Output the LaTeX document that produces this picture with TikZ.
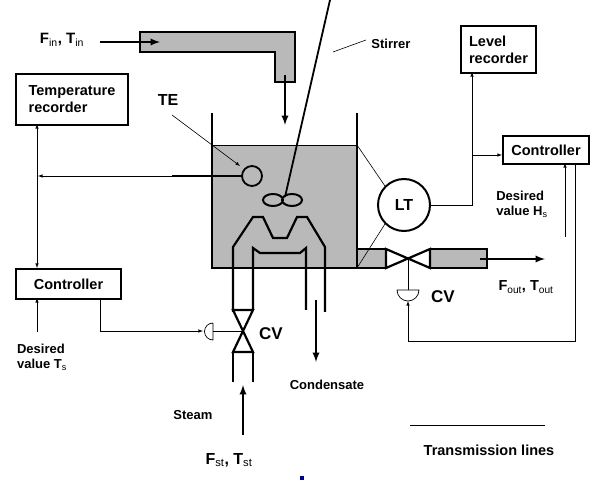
\documentclass[tikz,border=0pt]{standalone}
\usepackage{fontspec}
\setmainfont{Liberation Sans}
\begin{document}
\begin{tikzpicture}[x=1pt,y=-1pt,
  lbl/.style={font=\bfseries\fontsize{13}{15}\selectfont, align=left, inner sep=1pt},
  box/.style={draw, line width=2pt, font=\bfseries\fontsize{14.5}{17}\selectfont, align=left, inner sep=3pt, anchor=north west},
  pipe/.style={line width=2.2pt},
  flow/.style={line width=2.2pt, -latex},
  sig/.style={line width=0.6pt, -latex},
  vessel/.style={fill=gray!55, draw, line width=2.2pt}]
\useasboundingbox (0,0) rectangle (611,481);
% tank
\fill[gray!55] (212,145) rectangle (357,268);
\draw[line width=0.6pt] (212,145) -- (357,145);
\draw[pipe] (212,113) -- (212,268) -- (357,268) -- (357,113);
% inlet pipe
\draw[vessel] (140,32) -- (295,32) -- (295,82) -- (275,82) -- (275,52) -- (140,52) -- cycle;
\coordinate (fin) at (100,42);
\node[lbl,font=\bfseries\fontsize{15}{17}\selectfont] (finl) at (62,40) {F$_{\mathrm{in}}$, T$_{\mathrm{in}}$};
\draw[flow] (fin) -- (160,42);
\draw[flow] (285,75) -- (285,125);
% stirrer
\draw[line width=1.8pt] (330,0) -- (285,197);
\draw[line width=2pt] (273,200) ellipse (10 and 6) (292,200) ellipse (10 and 6);
\node[lbl] (stir) at (391,44) {Stirrer};
\draw[line width=0.6pt] (333,52) -- (366,40);
% coil
\draw[pipe] (233,312) -- (233,247) -- (253,217) -- (263,217) -- (273,238) -- (287,238) -- (297,217) -- (307,217) -- (325,247) -- (325,312);
\draw[pipe] (253,310) -- (253,248) -- (260,253) -- (300,253) -- (306,248) -- (306,310);
% steam valve
\draw[pipe] (233,310) -- (253,310) -- (233,352) -- (253,352) -- cycle;
\draw[pipe] (233,352) -- (233,382) (253,352) -- (253,382);
\node[lbl,font=\bfseries\fontsize{17}{19}\selectfont] (cv1) at (271,334) {CV};
\draw[flow] (243,435) -- (243,385);
\node[lbl] (steam) at (193,415) {Steam};
\node[lbl,font=\bfseries\fontsize{16}{18}\selectfont] (fst) at (229,460) {F$_{\mathrm{st}}$, T$_{\mathrm{st}}$};
\draw[flow] (316,300) -- (316,362);
\node[lbl] (cond) at (327,385) {Condensate};
% steam actuator
\draw[line width=0.7pt] (213,323) -- (213,340) arc (90:270:8.5);
\draw[line width=0.6pt] (213,331) -- (242,331);
% TE
\draw[line width=1.8pt] (252,176) circle (10);
\draw[line width=1.8pt] (172,176) -- (242,176);
\node[lbl,font=\bfseries\fontsize{16}{18}\selectfont] (te) at (168,100) {TE};
\draw[sig] (172,115) -- (240,166);
% temperature loop
\node[box,minimum width=112pt,minimum height=51pt] (trec) at (15,73) {Temperature\\recorder};
\node[box,minimum width=105pt,minimum height=30pt] (tc) at (15,268) {Controller};
\draw[line width=0.6pt,latex-latex] (37,124) -- (37,268);
\draw[sig] (172,176) -- (38,176);
\node[lbl] (tsd) at (42,357) {Desired\\value T$_{\mathrm{s}}$};
\draw[sig] (37,332) -- (37,298);
\draw[sig] (100,298) -- (100,331) -- (203,331);
% outlet
\draw[vessel] (357,249) rectangle (386,268);
\draw[vessel] (430,249) rectangle (487,268);
\draw[pipe] (386,249) -- (386,268) -- (430,249) -- (430,268) -- cycle;
\draw[flow] (480,259) -- (545,259);
\node[lbl,font=\bfseries\fontsize{14.5}{17}\selectfont] (fout) at (526,287) {F$_{\mathrm{out}}$, T$_{\mathrm{out}}$};
% LT
\node[draw,circle,line width=2pt,minimum size=52pt,inner sep=0pt,font=\bfseries\fontsize{16}{18}\selectfont] (lt) at (404,205) {LT};
\draw[line width=0.6pt] (357,145) -- (lt.135);
\draw[line width=0.6pt] (lt.225) -- (357,268);
\node[box,minimum width=75pt,minimum height=47pt] (lrec) at (460,25) {Level\\recorder};
\node[box,minimum width=86pt,minimum height=28pt] (lc) at (502,135) {Controller};
\draw[sig] (lt.east) -- (472,205) -- (472,72);
\draw[sig] (472,155) -- (502,155);
\node[lbl] (hsd) at (522,204) {Desired\\value H$_{\mathrm{s}}$};
\draw[sig] (565,237) -- (565,163);
\draw[line width=0.7pt] (397,290) -- (419,290) arc (0:180:11);
\draw[line width=0.6pt] (408,259) -- (408,290);
\draw[sig] (575,163) -- (575,341) -- (408,341) -- (408,301);
\node[lbl,font=\bfseries\fontsize{17}{19}\selectfont] (cv2) at (443,297) {CV};
% legend
\draw[line width=0.6pt] (410,425) -- (545,425);
\node[lbl,font=\bfseries\fontsize{14.5}{17}\selectfont] (tl2) at (489,450) {Transmission lines};
\fill[blue!60!black] (300,476) rectangle (304,480);
\end{tikzpicture}
\end{document}
